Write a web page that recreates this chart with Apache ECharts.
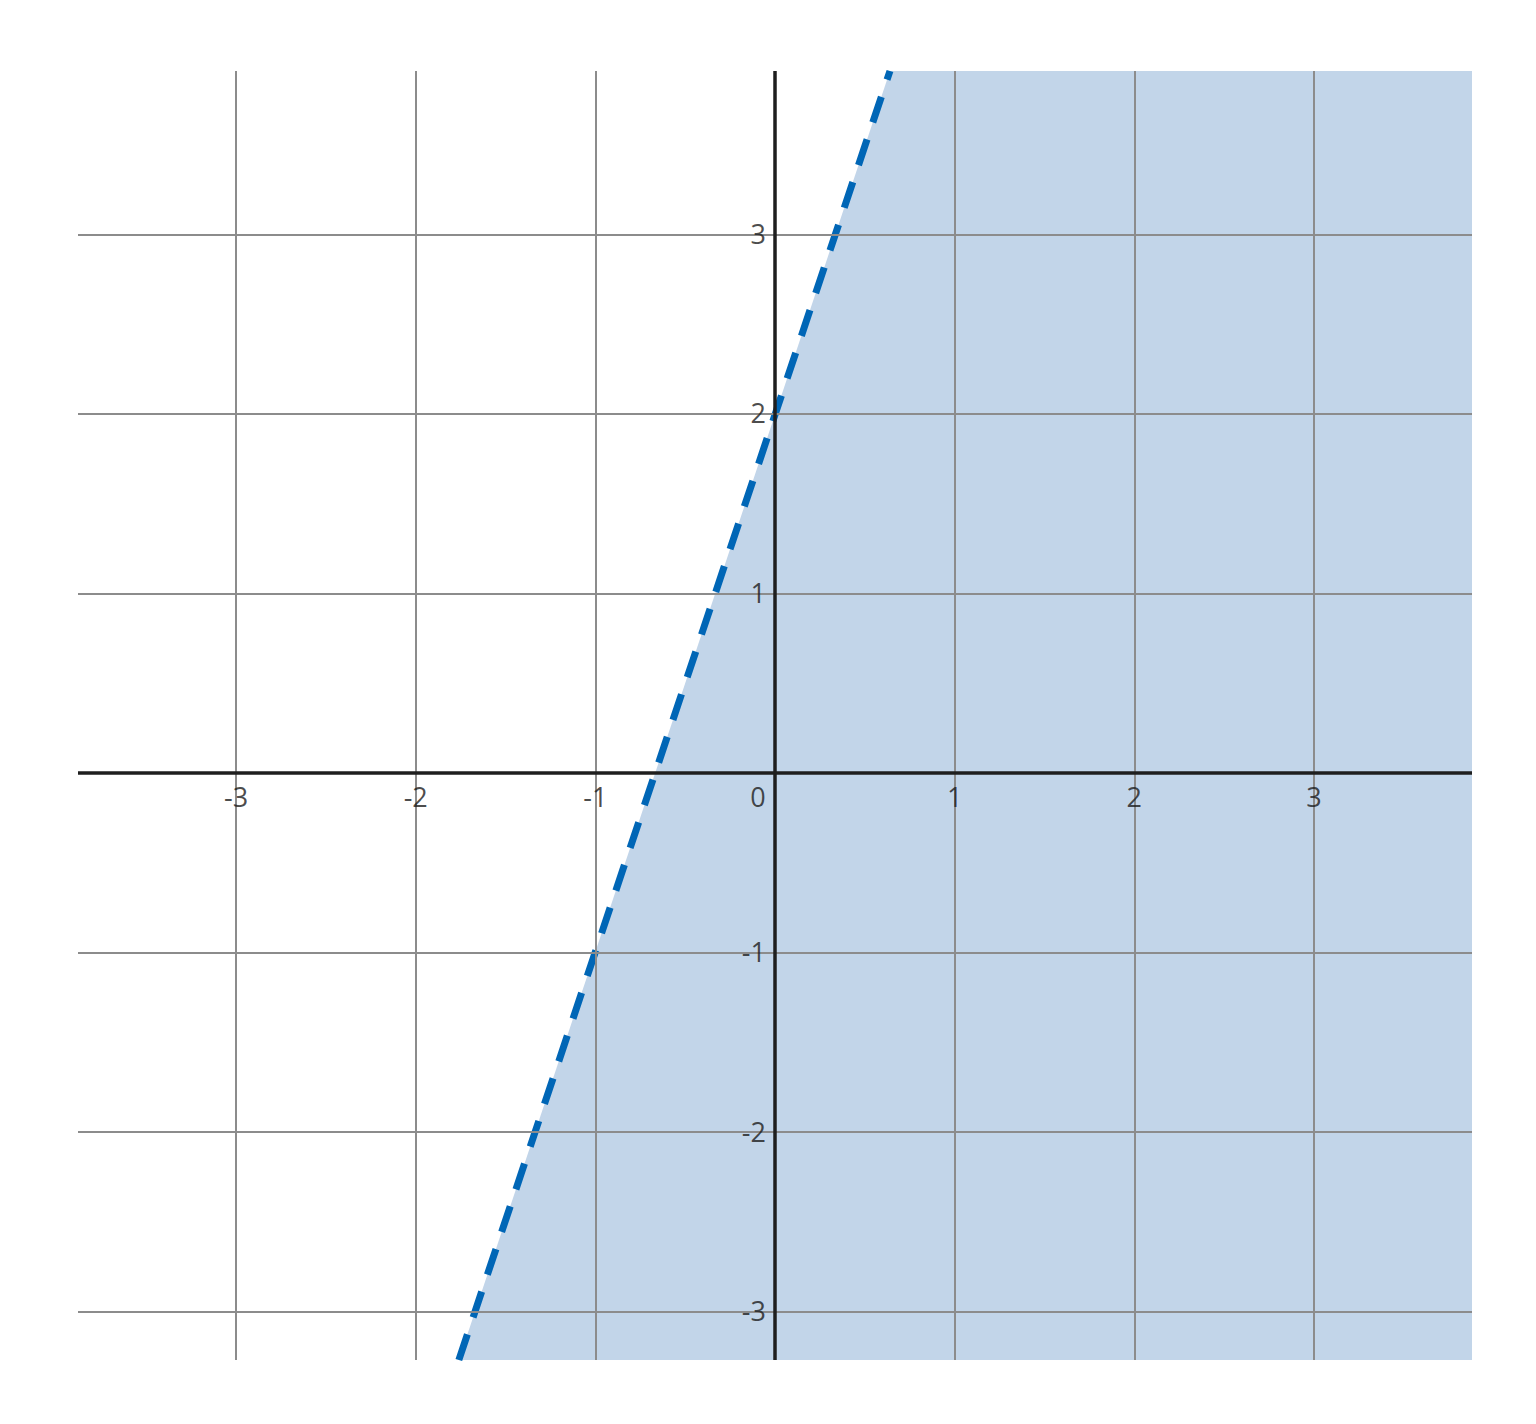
<!DOCTYPE html>
<html>
<head>
<meta charset="utf-8">
<script src="https://cdn.jsdelivr.net/npm/echarts@6/dist/echarts.min.js"></script>
<style>
html,body{margin:0;padding:0;background:#fff;}
#chart{width:1536px;height:1424px;}
</style>
</head>
<body>
<div id="chart"></div>
<script>
// ---- data ----
var xRange = [-3.88, 3.88];
var yRange = [-3.27, 3.91];
var xTicks = [-3, -2, -1, 1, 2, 3];
var yTicks = [-3, -2, -1, 1, 2, 3];
var gridXs = [-3, -2, -1, 1, 2, 3];
var gridYs = [-3, -2, -1, 1, 2, 3];
// boundary line (dashed): y = 3x + 2, endpoints at the plot edges
var linePoints = [[-1.76, -3.27], [0.64, 3.91]];
// shaded region (right of the boundary)
var shadePoints = [[0.64, 3.91], [3.88, 3.91], [3.88, -3.27], [-1.76, -3.27]];
var originLabel = '0';

var FONT = 'Open Sans';
var FS = 27;
var TXT = '#1c1c1c';
var chart = echarts.init(document.getElementById('chart'), null, {renderer: 'svg'});

var option = {
  backgroundColor: '#ffffff',
  animation: false,
  grid: {left: 78, right: 64, top: 71, bottom: 64, containLabel: false},
  xAxis: {
    type: 'value', min: xRange[0], max: xRange[1],
    axisLine: {show: false}, axisTick: {show: false},
    axisLabel: {show: false}, splitLine: {show: false}
  },
  yAxis: {
    type: 'value', min: yRange[0], max: yRange[1],
    axisLine: {show: false}, axisTick: {show: false},
    axisLabel: {show: false}, splitLine: {show: false}
  },
  series: [
    {
      name: 'shade', type: 'custom', z: 1, silent: true,
      data: [0],
      renderItem: function (params, api) {
        return {
          type: 'polygon',
          shape: {points: shadePoints.map(function (p) { return api.coord(p); })},
          style: {fill: '#c2d5e9'}
        };
      }
    },
    {
      name: 'grid', type: 'line', z: 2, silent: true, data: [],
      markLine: {
        silent: true, symbol: 'none', animation: false,
        label: {show: false},
        lineStyle: {color: '#8c8c8c', width: 2, type: 'solid'},
        data: gridXs.map(function (v) { return {xAxis: v}; })
          .concat(gridYs.map(function (v) { return {yAxis: v}; }))
      }
    },
    {
      name: 'axes', type: 'line', z: 3, silent: true, data: [],
      markLine: {
        silent: true, symbol: 'none', animation: false,
        label: {show: false},
        lineStyle: {color: '#1e1e1e', width: 3.5, type: 'solid'},
        data: [{xAxis: 0}, {yAxis: 0}]
      }
    },
    {
      name: 'boundary', type: 'line', z: 4, silent: true, clip: false,
      symbol: 'none',
      data: linePoints,
      lineStyle: {color: '#0066b6', width: 7, type: [27, 18], cap: 'butt'}
    },
    {
      name: 'xlabels', type: 'scatter', z: 5, silent: true, symbolSize: 0,
      data: xTicks.map(function (v) { return [v, 0]; }),
      label: {
        show: true, position: 'bottom', distance: 10,
        formatter: function (p) { return String(p.value[0]); },
        fontFamily: FONT, fontSize: FS, color: TXT
      }
    },
    {
      name: 'ylabels', type: 'scatter', z: 5, silent: true, symbolSize: 0,
      data: yTicks.map(function (v) { return [0, v]; }),
      label: {
        show: true, position: 'left', distance: 9,
        formatter: function (p) { return String(p.value[1]); },
        fontFamily: FONT, fontSize: FS, color: TXT, offset: [0, -1]
      }
    },
    {
      name: 'origin', type: 'scatter', z: 5, silent: true, symbolSize: 0,
      data: [[0, 0]],
      label: {
        show: true, position: 'bottom', distance: 10,
        formatter: originLabel,
        fontFamily: FONT, fontSize: FS, color: TXT, offset: [-17, 0]
      }
    }
  ]
};
chart.setOption(option);
</script>
</body>
</html>
